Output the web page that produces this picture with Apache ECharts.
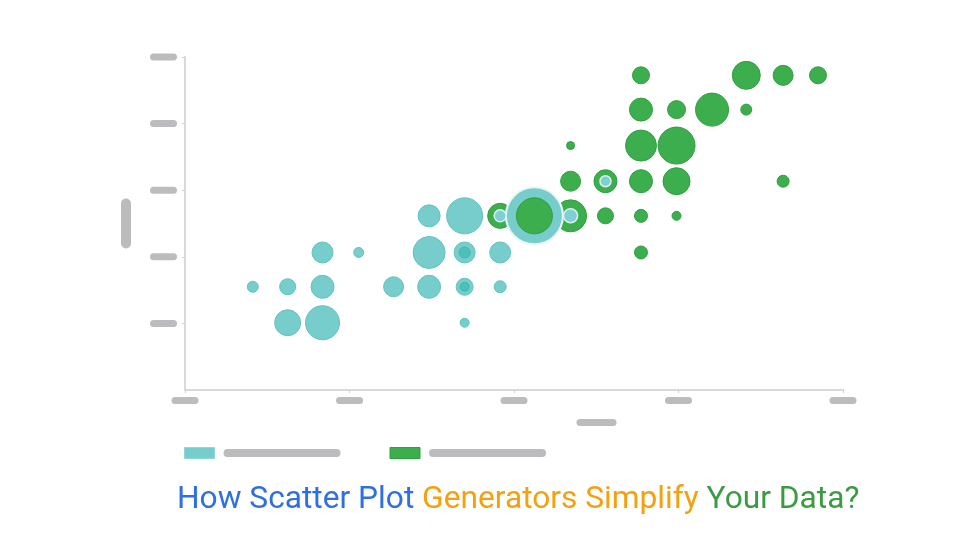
<!DOCTYPE html>
<html>
<head>
<meta charset="utf-8">
<script src="https://cdn.jsdelivr.net/npm/echarts@6/dist/echarts.min.js"></script>
<style>html,body{margin:0;padding:0;background:#fff}#c{width:975px;height:559px}</style>
</head>
<body>
<div id="c"></div>
<script>
// [x, y, bubble diameter]
const tealBubbles = [
  [10.3,31,11],[15.6,31,16],[20.9,31,23],[15.6,20.2,26],[20.9,20.2,34],
  [20.9,41.3,21],[26.4,41.3,10],[31.7,31,20],[37.1,31,23],[37.1,41.3,32],
  [37.1,52.3,22],[42.5,52.3,36],[42.5,41.3,21],[42.5,31,17],[42.5,20.2,9],
  [47.9,41.3,21],[47.9,31,12],[53.1,52.3,57]
];
const tealDarkInner = [[42.5,41.3,11],[42.5,31,9]];
const greenRingBubbles = [[47.9,52.3,25],[58.6,52.3,32],[63.9,62.7,23]];
const tealRingInner = [[47.9,52.3,12],[58.6,52.3,14],[63.9,62.7,11]];
const greenBubbles = [
  [53.1,52.3,36],
  [58.6,73.4,8],[58.6,62.7,20],
  [63.9,52.3,16],
  [69.3,94.5,17],[69.3,84.2,23],[69.3,73.4,31],[69.3,62.7,23],[69.3,52.3,13],[69.3,41.3,13],
  [74.7,84.2,18],[74.7,73.4,37],[74.7,62.7,27],[74.7,52.3,9],
  [80.1,84.2,33],
  [85.3,94.5,28],[85.3,84.2,11],
  [90.9,94.5,20],[90.9,62.7,12],
  [96.2,94.5,17]
];
const seriesNames = ['Series A', 'Series B'];
const titleParts = ['How Scatter Plot', 'Generators Simplify', 'Your Data?'];
const xAxisRange = [0, 100, 25];
const yAxisRange = [0, 100, 20];

const TEAL = '#76CDCB', TEAL_BORDER = '#5FC4C1', GREEN = '#3DAE4E', GREEN_BORDER = '#2F9F41';
const GRAY = '#BCBCBE';
const TITLE_SIZE = 31.7;

const chart = echarts.init(document.getElementById('c'));
const sizeFn = d => d[2];
chart.setOption({
  animation: false,
  backgroundColor: '#fff',
  title: {
    text: `{a|${titleParts[0]}} {b|${titleParts[1]}} {c|${titleParts[2]}}`,
    left: 172, top: 479,
    textStyle: {
      fontFamily: 'Roboto', fontSize: TITLE_SIZE, fontWeight: 'normal', color: '#333',
      rich: {
        a: { color: '#2E6FE2', fontFamily: 'Roboto', fontSize: TITLE_SIZE },
        b: { color: '#F4A10F', fontFamily: 'Roboto', fontSize: TITLE_SIZE },
        c: { color: '#3A9B40', fontFamily: 'Roboto', fontSize: TITLE_SIZE }
      }
    }
  },
  legend: {
    left: 179, top: 442,
    itemWidth: 30, itemHeight: 11, itemGap: 49,
    icon: 'rect',
    data: [
      { name: seriesNames[0], itemStyle: { color: TEAL, borderColor: '#8ED8D6', borderWidth: 1 } },
      { name: seriesNames[1], itemStyle: { color: GREEN, borderColor: '#2F9F41', borderWidth: 1 } }
    ],
    formatter: () => '{sp|}{bar| }',
    textStyle: {
      rich: {
        sp: { width: 4, height: 8 },
        bar: { width: 117, height: 8, backgroundColor: GRAY, borderRadius: 4 }
      }
    }
  },
  grid: { left: 185, right: 132, top: 57, bottom: 169, containLabel: false, outerBoundsMode: 'none' },
  xAxis: {
    type: 'value', min: xAxisRange[0], max: xAxisRange[1], interval: xAxisRange[2],
    splitLine: { show: false },
    axisLine: { show: true, lineStyle: { color: '#D9D9D9', width: 2 } },
    axisTick: { show: true, length: 3, lineStyle: { color: '#D0D0D0' } },
    axisLabel: {
      margin: 7,
      formatter: () => '{b| }',
      rich: { b: { width: 27, height: 7, backgroundColor: GRAY, borderRadius: 4 } }
    },
    name: '{sp|}{bar| }', nameLocation: 'middle', nameGap: 29,
    nameTextStyle: {
      rich: { sp: { width: 165, height: 7 }, bar: { width: 40, height: 7, backgroundColor: GRAY, borderRadius: 4 } }
    }
  },
  yAxis: {
    type: 'value', min: yAxisRange[0], max: yAxisRange[1], interval: yAxisRange[2],
    splitLine: { show: false },
    axisLine: { show: true, lineStyle: { color: '#D9D9D9', width: 2 } },
    axisTick: { show: true, length: 3, lineStyle: { color: '#D0D0D0' } },
    axisLabel: {
      margin: 8, showMinLabel: false,
      formatter: () => '{b| }',
      rich: { b: { width: 27, height: 7, backgroundColor: GRAY, borderRadius: 4 } }
    },
    name: '{bar| }', nameLocation: 'middle', nameGap: 54,
    nameTextStyle: {
      rich: { bar: { width: 50, height: 10, backgroundColor: GRAY, borderRadius: 5 } }
    }
  },
  series: [
    { name: seriesNames[1], type: 'scatter', data: greenRingBubbles, symbolSize: sizeFn,
      itemStyle: { color: GREEN, borderColor: GREEN_BORDER, borderWidth: 1, opacity: 1 } },
    { name: seriesNames[0], type: 'scatter', symbolSize: sizeFn,
      data: tealBubbles.map(d => d[2] > 50 ? { value: d, itemStyle: { borderColor: '#E8F7F6', borderWidth: 2 } } : d),
      itemStyle: { color: TEAL, borderColor: TEAL_BORDER, borderWidth: 1, opacity: 1 } },
    { name: seriesNames[0], type: 'scatter', data: tealDarkInner, symbolSize: sizeFn,
      itemStyle: { color: '#4CC1B9', borderColor: '#3FB8B0', borderWidth: 1, opacity: 1 } },
    { name: seriesNames[1], type: 'scatter', data: greenBubbles, symbolSize: sizeFn,
      itemStyle: { color: GREEN, borderColor: GREEN_BORDER, borderWidth: 1, opacity: 1 } },
    { name: seriesNames[0], type: 'scatter', data: tealRingInner, symbolSize: sizeFn,
      itemStyle: { color: '#7FD0D4', borderColor: '#D9F1F1', borderWidth: 1.5, opacity: 1 } }
  ]
});
</script>
</body>
</html>
